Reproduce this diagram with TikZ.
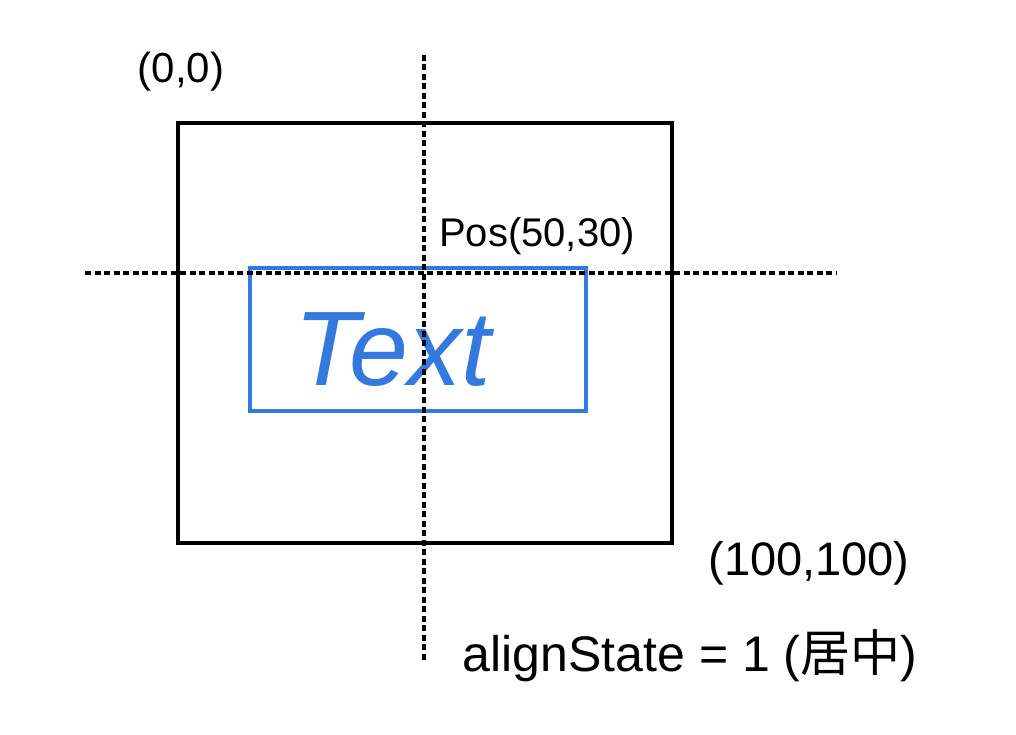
\documentclass[tikz,border=0pt]{standalone}
\usepackage{fontspec}
\setmainfont{Liberation Sans}
\newfontfamily\cjk{Noto Sans CJK SC}
\definecolor{boxblue}{RGB}{52,122,222}
\begin{document}
\begin{tikzpicture}[x=1pt,y=-1pt,
  frame/.style={draw=black,line width=4pt},
  textbox/.style={draw=boxblue,line width=4.5pt},
  guide/.style={draw=black,line width=3.8pt,dash pattern=on 6pt off 3.5pt},
  lbl/.style={inner sep=0pt,text=black}]
\useasboundingbox[fill=white] (0,0) rectangle (1016,735);
% outer frame
\coordinate (fTL) at (178,123);
\coordinate (fBR) at (672,543);
\draw[frame] (fTL) rectangle (fBR);
% text box
\coordinate (bTL) at (250,268);
\coordinate (bBR) at (586,411);
\draw[textbox] (bTL) rectangle (bBR);
\node[lbl,text=boxblue,font=\itshape\fontsize{106}{106}\selectfont] (txt) at (393,350) {Text};
% guides
\coordinate (vT) at (424,55);
\coordinate (vB) at (424,662);
\coordinate (hL) at (85,273);
\coordinate (hR) at (836,273);
\draw[guide] (vT) -- (vB);
\draw[guide] (hL) -- (hR);
% labels
\node[lbl,font=\fontsize{42}{42}\selectfont] (origin) at (181,72) {(0,0)};
\node[lbl,font=\fontsize{40}{40}\selectfont] (pos) at (537,236) {Pos(50,30)};
\node[lbl,font=\fontsize{47}{47}\selectfont] (corner) at (809,563) {(100,100)};
\node[lbl,font=\fontsize{50}{50}\selectfont] (state) at (690,656) {alignState = 1 ({\cjk 居中})};
\end{tikzpicture}
\end{document}
